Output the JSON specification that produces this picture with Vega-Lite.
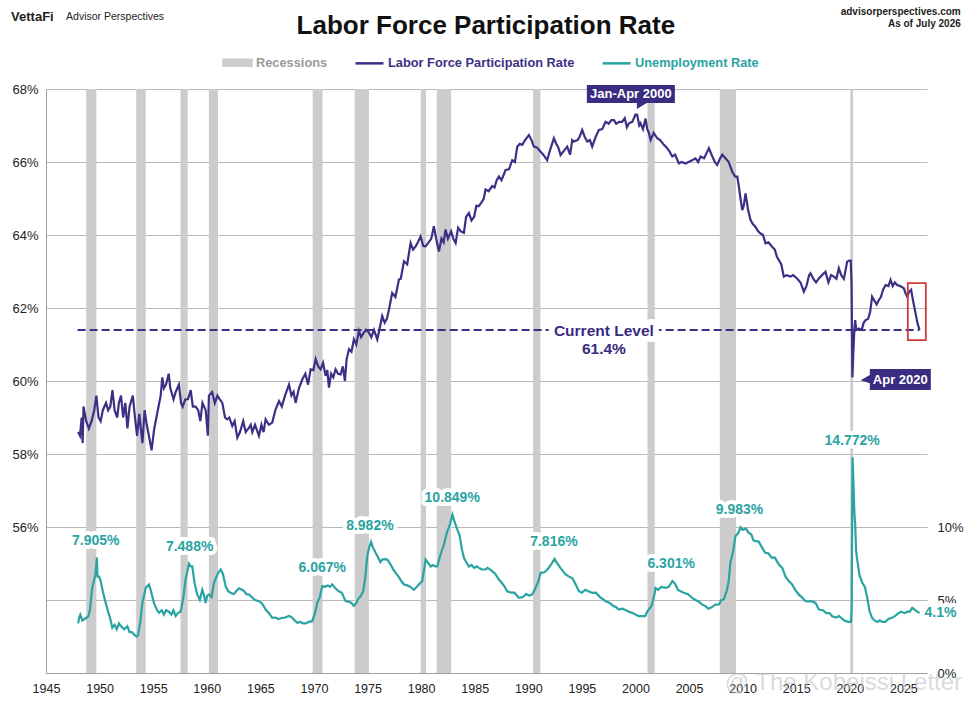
{
  "$schema": "https://vega.github.io/schema/vega-lite/v6.json",
  "width": 881,
  "height": 584,
  "autosize": {"type": "none"},
  "padding": {"left": 46, "top": 89, "right": 46, "bottom": 33},
  "background": "white",
  "config": {
    "view": {"stroke": null},
    "font": "Liberation Sans",
    "axis": {"labelFont": "Liberation Sans", "labelFontSize": 12.5, "labelColor": "#222222", "gridColor": "#b8b8b8", "domainColor": "#a0a0a0", "ticks": false}
  },
  "datasets": {
    "recessions": [
      {"start": 1948.75, "end": 1949.7}, {"start": 1953.42, "end": 1954.3}, {"start": 1957.55, "end": 1958.22},
      {"start": 1960.2, "end": 1961.05}, {"start": 1969.88, "end": 1970.8}, {"start": 1973.8, "end": 1975.13},
      {"start": 1979.96, "end": 1980.46}, {"start": 1981.45, "end": 1982.8}, {"start": 1990.45, "end": 1991.13},
      {"start": 2001.12, "end": 2001.8}, {"start": 2007.87, "end": 2009.38}, {"start": 2020.05, "end": 2020.3}
    ],
    "lfpr": [
      {"t":1948.0,"v":58.6},{"t":1948.17,"v":58.5},{"t":1948.33,"v":59.0},{"t":1948.42,"v":58.3},{"t":1948.5,"v":59.3},{"t":1948.75,"v":58.9},
      {"t":1949.0,"v":58.7},{"t":1949.25,"v":58.9},{"t":1949.5,"v":59.2},{"t":1949.7,"v":59.6},{"t":1949.9,"v":59.0},
      {"t":1950.1,"v":58.9},{"t":1950.3,"v":59.2},{"t":1950.6,"v":59.4},{"t":1950.8,"v":59.2},
      {"t":1951.0,"v":59.3},{"t":1951.2,"v":59.75},{"t":1951.4,"v":59.2},{"t":1951.65,"v":59.0},{"t":1951.8,"v":59.4},
      {"t":1952.0,"v":59.6},{"t":1952.2,"v":59.0},{"t":1952.4,"v":59.4},{"t":1952.6,"v":58.7},{"t":1952.8,"v":59.3},
      {"t":1953.1,"v":59.6},{"t":1953.3,"v":59.0},{"t":1953.5,"v":58.5},{"t":1953.7,"v":59.1},
      {"t":1954.0,"v":58.3},{"t":1954.2,"v":59.2},{"t":1954.4,"v":58.8},{"t":1954.6,"v":58.5},{"t":1954.85,"v":58.1},
      {"t":1955.1,"v":58.7},{"t":1955.3,"v":59.0},{"t":1955.5,"v":59.3},{"t":1955.7,"v":59.6},{"t":1955.85,"v":60.1},
      {"t":1956.0,"v":59.8},{"t":1956.2,"v":59.9},{"t":1956.45,"v":60.2},{"t":1956.6,"v":59.8},{"t":1956.9,"v":59.5},
      {"t":1957.1,"v":59.7},{"t":1957.4,"v":59.9},{"t":1957.6,"v":59.4},{"t":1957.75,"v":59.3},
      {"t":1958.0,"v":59.5},{"t":1958.25,"v":59.5},{"t":1958.5,"v":59.75},{"t":1958.7,"v":59.3},{"t":1958.96,"v":59.3},
      {"t":1959.2,"v":59.2},{"t":1959.4,"v":58.9},{"t":1959.6,"v":59.4},{"t":1959.9,"v":59.2},
      {"t":1960.1,"v":58.5},{"t":1960.2,"v":59.6},{"t":1960.5,"v":59.7},{"t":1960.75,"v":59.4},
      {"t":1961.0,"v":59.6},{"t":1961.2,"v":59.5},{"t":1961.45,"v":59.4},{"t":1961.7,"v":59.0},{"t":1961.9,"v":58.95},
      {"t":1962.1,"v":59.0},{"t":1962.38,"v":58.77},{"t":1962.6,"v":58.9},{"t":1962.85,"v":58.45},
      {"t":1963.1,"v":58.6},{"t":1963.4,"v":58.9},{"t":1963.63,"v":58.6},{"t":1963.9,"v":58.7},
      {"t":1964.1,"v":58.8},{"t":1964.25,"v":58.6},{"t":1964.5,"v":58.8},{"t":1964.87,"v":58.5},
      {"t":1965.1,"v":58.8},{"t":1965.3,"v":58.6},{"t":1965.49,"v":58.95},{"t":1965.8,"v":58.8},
      {"t":1966.11,"v":58.86},{"t":1966.4,"v":59.2},{"t":1966.74,"v":59.45},
      {"t":1967.0,"v":59.3},{"t":1967.3,"v":59.6},{"t":1967.67,"v":59.9},{"t":1967.9,"v":59.6},
      {"t":1968.1,"v":59.7},{"t":1968.29,"v":59.4},{"t":1968.6,"v":59.8},{"t":1968.91,"v":60.04},
      {"t":1969.2,"v":60.2},{"t":1969.45,"v":59.9},{"t":1969.69,"v":60.32},{"t":1969.95,"v":60.3},
      {"t":1970.16,"v":60.6},{"t":1970.4,"v":60.4},{"t":1970.62,"v":60.32},{"t":1970.85,"v":60.5},
      {"t":1971.09,"v":60.14},{"t":1971.25,"v":60.3},{"t":1971.4,"v":59.82},{"t":1971.6,"v":60.2},{"t":1971.8,"v":60.1},
      {"t":1972.02,"v":60.32},{"t":1972.25,"v":60.2},{"t":1972.49,"v":60.18},{"t":1972.7,"v":60.4},{"t":1972.89,"v":60.0},
      {"t":1973.05,"v":60.6},{"t":1973.27,"v":60.87},{"t":1973.5,"v":60.8},{"t":1973.73,"v":61.14},{"t":1973.95,"v":61.0},
      {"t":1974.2,"v":61.37},{"t":1974.4,"v":61.2},{"t":1974.6,"v":61.3},{"t":1974.85,"v":61.4},
      {"t":1975.13,"v":61.33},{"t":1975.35,"v":61.2},{"t":1975.6,"v":61.4},{"t":1975.91,"v":61.14},
      {"t":1976.1,"v":61.4},{"t":1976.37,"v":61.78},{"t":1976.6,"v":61.6},{"t":1976.8,"v":61.7},
      {"t":1977.0,"v":61.96},{"t":1977.3,"v":62.41},{"t":1977.6,"v":62.3},{"t":1977.93,"v":62.78},
      {"t":1978.1,"v":62.8},{"t":1978.4,"v":63.28},{"t":1978.7,"v":63.2},
      {"t":1979.02,"v":63.78},{"t":1979.25,"v":63.6},{"t":1979.49,"v":63.69},{"t":1979.7,"v":63.8},{"t":1979.95,"v":63.96},
      {"t":1980.2,"v":63.7},{"t":1980.42,"v":63.69},{"t":1980.7,"v":63.8},{"t":1980.95,"v":63.9},
      {"t":1981.19,"v":64.24},{"t":1981.4,"v":63.9},{"t":1981.66,"v":63.55},{"t":1981.9,"v":63.9},
      {"t":1982.1,"v":63.8},{"t":1982.28,"v":64.15},{"t":1982.5,"v":63.9},{"t":1982.8,"v":64.1},
      {"t":1983.0,"v":63.9},{"t":1983.22,"v":63.78},{"t":1983.45,"v":64.2},{"t":1983.7,"v":64.1},{"t":1983.99,"v":64.06},
      {"t":1984.2,"v":64.5},{"t":1984.46,"v":64.6},{"t":1984.7,"v":64.4},{"t":1984.95,"v":64.5},
      {"t":1985.15,"v":64.8},{"t":1985.39,"v":64.79},{"t":1985.65,"v":64.9},{"t":1985.85,"v":65.0},
      {"t":1986.01,"v":65.25},{"t":1986.3,"v":65.2},{"t":1986.63,"v":65.34},{"t":1986.85,"v":65.3},
      {"t":1987.05,"v":65.5},{"t":1987.26,"v":65.6},{"t":1987.5,"v":65.5},{"t":1987.88,"v":65.78},
      {"t":1988.2,"v":65.8},{"t":1988.5,"v":66.05},{"t":1988.75,"v":66.0},{"t":1988.97,"v":66.42},
      {"t":1989.2,"v":66.5},{"t":1989.43,"v":66.47},{"t":1989.7,"v":66.6},
      {"t":1990.06,"v":66.74},{"t":1990.3,"v":66.6},{"t":1990.52,"v":66.42},{"t":1990.8,"v":66.4},
      {"t":1991.15,"v":66.28},{"t":1991.4,"v":66.2},{"t":1991.76,"v":66.05},
      {"t":1992.0,"v":66.3},{"t":1992.39,"v":66.65},{"t":1992.6,"v":66.5},{"t":1992.8,"v":66.4},
      {"t":1993.01,"v":66.19},{"t":1993.3,"v":66.3},{"t":1993.63,"v":66.42},{"t":1993.9,"v":66.2},
      {"t":1994.1,"v":66.6},{"t":1994.25,"v":66.56},{"t":1994.6,"v":66.6},{"t":1994.8,"v":66.7},
      {"t":1995.03,"v":66.88},{"t":1995.25,"v":66.7},{"t":1995.5,"v":66.56},{"t":1995.75,"v":66.6},{"t":1995.96,"v":66.42},
      {"t":1996.3,"v":66.7},{"t":1996.59,"v":66.88},{"t":1996.9,"v":66.9},
      {"t":1997.21,"v":67.1},{"t":1997.5,"v":67.05},{"t":1997.75,"v":67.15},{"t":1997.99,"v":67.15},
      {"t":1998.2,"v":67.05},{"t":1998.5,"v":67.1},{"t":1998.76,"v":67.1},
      {"t":1999.0,"v":67.2},{"t":1999.2,"v":66.95},{"t":1999.39,"v":67.06},{"t":1999.7,"v":67.1},
      {"t":2000.0,"v":67.3},{"t":2000.16,"v":67.29},{"t":2000.35,"v":67.0},{"t":2000.47,"v":67.06},{"t":2000.7,"v":66.9},{"t":2000.94,"v":67.19},
      {"t":2001.1,"v":66.9},{"t":2001.25,"v":66.8},{"t":2001.41,"v":66.6},{"t":2001.7,"v":66.8},
      {"t":2002.03,"v":66.65},{"t":2002.3,"v":66.6},{"t":2002.65,"v":66.47},{"t":2002.9,"v":66.4},
      {"t":2003.15,"v":66.3},{"t":2003.43,"v":66.15},{"t":2003.7,"v":66.2},
      {"t":2004.05,"v":65.96},{"t":2004.3,"v":66.0},{"t":2004.68,"v":65.96},{"t":2004.95,"v":66.0},
      {"t":2005.29,"v":66.05},{"t":2005.6,"v":66.1},{"t":2005.85,"v":66.0},
      {"t":2006.07,"v":66.15},{"t":2006.4,"v":66.1},{"t":2006.85,"v":66.38},
      {"t":2007.1,"v":66.2},{"t":2007.4,"v":66.0},{"t":2007.62,"v":65.92},{"t":2007.9,"v":66.1},
      {"t":2008.1,"v":66.2},{"t":2008.4,"v":66.1},{"t":2008.7,"v":66.0},
      {"t":2009.02,"v":65.74},{"t":2009.3,"v":65.6},{"t":2009.5,"v":65.6},{"t":2009.65,"v":65.32},{"t":2009.8,"v":65.0},{"t":2009.96,"v":64.68},
      {"t":2010.1,"v":64.8},{"t":2010.27,"v":65.14},{"t":2010.5,"v":64.7},{"t":2010.74,"v":64.41},{"t":2010.95,"v":64.3},
      {"t":2011.2,"v":64.22},{"t":2011.45,"v":64.1},{"t":2011.67,"v":64.04},{"t":2011.9,"v":64.0},
      {"t":2012.13,"v":63.77},{"t":2012.4,"v":63.8},{"t":2012.75,"v":63.68},
      {"t":2013.0,"v":63.6},{"t":2013.2,"v":63.4},{"t":2013.38,"v":63.31},{"t":2013.6,"v":63.2},{"t":2013.84,"v":62.86},
      {"t":2014.1,"v":62.9},{"t":2014.47,"v":62.86},{"t":2014.7,"v":62.9},
      {"t":2015.08,"v":62.81},{"t":2015.4,"v":62.7},{"t":2015.71,"v":62.45},{"t":2015.95,"v":62.6},
      {"t":2016.2,"v":62.9},{"t":2016.33,"v":62.95},{"t":2016.6,"v":62.8},{"t":2016.85,"v":62.7},
      {"t":2017.11,"v":62.81},{"t":2017.4,"v":62.9},{"t":2017.73,"v":62.99},
      {"t":2018.0,"v":62.7},{"t":2018.25,"v":62.9},{"t":2018.51,"v":62.86},{"t":2018.75,"v":62.8},{"t":2018.97,"v":63.09},
      {"t":2019.2,"v":62.9},{"t":2019.45,"v":62.8},{"t":2019.75,"v":63.27},{"t":2019.95,"v":63.3},
      {"t":2020.08,"v":63.3},{"t":2020.16,"v":62.7},{"t":2020.24,"v":60.1},{"t":2020.33,"v":60.8},{"t":2020.42,"v":61.4},
      {"t":2020.5,"v":61.67},{"t":2020.6,"v":61.4},{"t":2020.84,"v":61.44},
      {"t":2021.1,"v":61.4},{"t":2021.3,"v":61.6},{"t":2021.47,"v":61.67},{"t":2021.7,"v":61.7},{"t":2021.9,"v":61.9},
      {"t":2022.08,"v":62.31},{"t":2022.3,"v":62.2},{"t":2022.5,"v":62.1},{"t":2022.71,"v":62.22},{"t":2022.9,"v":62.3},
      {"t":2023.1,"v":62.5},{"t":2023.33,"v":62.63},{"t":2023.6,"v":62.6},{"t":2023.8,"v":62.77},
      {"t":2024.0,"v":62.6},{"t":2024.2,"v":62.7},{"t":2024.41,"v":62.63},{"t":2024.7,"v":62.6},
      {"t":2025.04,"v":62.54},{"t":2025.2,"v":62.4},{"t":2025.35,"v":62.31},{"t":2025.55,"v":62.45},{"t":2025.72,"v":62.5},{"t":2025.9,"v":62.2},
      {"t":2026.13,"v":61.86},{"t":2026.3,"v":61.6},{"t":2026.5,"v":61.4}
    ],
    "unemp": [
      {"t":1948.0,"v":3.4},{"t":1948.1,"v":3.8},{"t":1948.2,"v":4.0},{"t":1948.4,"v":3.6},{"t":1948.6,"v":3.7},{"t":1948.8,"v":3.8},{"t":1948.95,"v":3.9},
      {"t":1949.1,"v":4.3},{"t":1949.3,"v":5.8},{"t":1949.5,"v":6.4},{"t":1949.6,"v":6.7},{"t":1949.75,"v":7.905},{"t":1949.8,"v":6.6},{"t":1949.95,"v":6.6},
      {"t":1950.1,"v":6.3},{"t":1950.3,"v":5.6},{"t":1950.57,"v":4.8},{"t":1950.8,"v":4.2},
      {"t":1951.0,"v":3.7},{"t":1951.19,"v":3.1},{"t":1951.4,"v":3.3},{"t":1951.6,"v":3.0},{"t":1951.81,"v":3.4},
      {"t":1952.0,"v":3.2},{"t":1952.3,"v":3.0},{"t":1952.59,"v":3.2},{"t":1952.8,"v":2.8},
      {"t":1953.0,"v":2.8},{"t":1953.21,"v":2.64},{"t":1953.45,"v":2.5},{"t":1953.6,"v":2.6},{"t":1953.8,"v":3.5},{"t":1953.99,"v":4.8},
      {"t":1954.15,"v":5.3},{"t":1954.3,"v":5.83},{"t":1954.61,"v":6.06},{"t":1954.8,"v":5.6},
      {"t":1955.07,"v":4.8},{"t":1955.3,"v":4.4},{"t":1955.54,"v":4.12},{"t":1955.8,"v":4.3},
      {"t":1956.0,"v":4.0},{"t":1956.2,"v":4.3},{"t":1956.47,"v":4.2},{"t":1956.7,"v":4.0},{"t":1956.9,"v":4.3},
      {"t":1957.1,"v":3.9},{"t":1957.3,"v":4.1},{"t":1957.56,"v":4.2},{"t":1957.8,"v":5.1},
      {"t":1958.02,"v":6.4},{"t":1958.2,"v":7.0},{"t":1958.33,"v":7.488},{"t":1958.5,"v":7.3},{"t":1958.65,"v":7.3},{"t":1958.85,"v":6.2},
      {"t":1959.11,"v":5.38},{"t":1959.35,"v":5.0},{"t":1959.58,"v":5.7},{"t":1959.75,"v":5.3},{"t":1959.89,"v":4.8},
      {"t":1960.05,"v":5.3},{"t":1960.21,"v":5.38},{"t":1960.45,"v":5.2},{"t":1960.67,"v":6.18},{"t":1960.9,"v":6.6},
      {"t":1961.1,"v":6.9},{"t":1961.3,"v":7.09},{"t":1961.5,"v":6.8},{"t":1961.76,"v":5.95},
      {"t":1962.0,"v":5.6},{"t":1962.23,"v":5.5},{"t":1962.5,"v":5.4},{"t":1962.75,"v":5.6},
      {"t":1963.0,"v":5.8},{"t":1963.3,"v":5.7},{"t":1963.5,"v":5.6},{"t":1963.7,"v":5.4},{"t":1963.94,"v":5.38},
      {"t":1964.2,"v":5.2},{"t":1964.5,"v":5.0},{"t":1964.87,"v":4.92},
      {"t":1965.1,"v":4.8},{"t":1965.3,"v":4.6},{"t":1965.49,"v":4.35},{"t":1965.8,"v":4.1},
      {"t":1966.11,"v":3.78},{"t":1966.4,"v":3.8},{"t":1966.7,"v":3.7},
      {"t":1967.05,"v":3.78},{"t":1967.3,"v":3.8},{"t":1967.67,"v":3.9},{"t":1967.95,"v":3.8},
      {"t":1968.2,"v":3.6},{"t":1968.45,"v":3.44},{"t":1968.7,"v":3.5},
      {"t":1969.0,"v":3.4},{"t":1969.23,"v":3.4},{"t":1969.5,"v":3.5},{"t":1969.84,"v":3.55},
      {"t":1970.1,"v":4.1},{"t":1970.31,"v":4.8},{"t":1970.55,"v":5.2},{"t":1970.78,"v":5.95},
      {"t":1971.0,"v":5.9},{"t":1971.3,"v":6.0},{"t":1971.5,"v":5.9},{"t":1971.71,"v":6.067},
      {"t":1972.0,"v":5.8},{"t":1972.33,"v":5.6},{"t":1972.6,"v":5.5},{"t":1972.96,"v":4.92},
      {"t":1973.2,"v":4.9},{"t":1973.5,"v":4.8},{"t":1973.73,"v":4.6},{"t":1973.95,"v":4.8},
      {"t":1974.15,"v":5.1},{"t":1974.35,"v":5.25},{"t":1974.6,"v":5.6},{"t":1974.8,"v":6.6},{"t":1974.97,"v":8.0},
      {"t":1975.15,"v":8.6},{"t":1975.33,"v":8.982},{"t":1975.5,"v":8.6},{"t":1975.75,"v":8.23},
      {"t":1976.0,"v":7.9},{"t":1976.2,"v":7.6},{"t":1976.37,"v":7.77},{"t":1976.6,"v":7.8},{"t":1976.84,"v":7.77},
      {"t":1977.1,"v":7.5},{"t":1977.4,"v":7.1},{"t":1977.62,"v":6.86},{"t":1977.9,"v":6.6},
      {"t":1978.15,"v":6.3},{"t":1978.4,"v":6.06},{"t":1978.7,"v":6.0},
      {"t":1979.0,"v":5.9},{"t":1979.33,"v":5.7},{"t":1979.6,"v":5.9},{"t":1979.8,"v":6.06},
      {"t":1980.1,"v":6.3},{"t":1980.3,"v":7.2},{"t":1980.42,"v":7.77},{"t":1980.6,"v":7.6},{"t":1980.89,"v":7.3},
      {"t":1981.1,"v":7.4},{"t":1981.3,"v":7.3},{"t":1981.51,"v":7.3},{"t":1981.8,"v":8.1},
      {"t":1982.13,"v":8.8},{"t":1982.4,"v":9.6},{"t":1982.7,"v":10.2},{"t":1982.92,"v":10.849},
      {"t":1983.1,"v":10.4},{"t":1983.37,"v":9.83},{"t":1983.6,"v":9.4},{"t":1983.8,"v":8.5},{"t":1983.99,"v":7.89},
      {"t":1984.2,"v":7.6},{"t":1984.46,"v":7.3},{"t":1984.7,"v":7.4},{"t":1984.95,"v":7.2},
      {"t":1985.2,"v":7.3},{"t":1985.39,"v":7.2},{"t":1985.65,"v":7.1},
      {"t":1986.01,"v":7.09},{"t":1986.2,"v":7.2},{"t":1986.4,"v":7.1},{"t":1986.63,"v":6.98},{"t":1986.9,"v":6.8},
      {"t":1987.26,"v":6.4},{"t":1987.5,"v":6.2},{"t":1987.8,"v":5.9},
      {"t":1988.03,"v":5.6},{"t":1988.4,"v":5.5},{"t":1988.7,"v":5.5},
      {"t":1989.12,"v":5.15},{"t":1989.5,"v":5.2},{"t":1989.8,"v":5.4},
      {"t":1990.1,"v":5.3},{"t":1990.36,"v":5.38},{"t":1990.6,"v":5.7},{"t":1990.9,"v":6.2},
      {"t":1991.15,"v":6.86},{"t":1991.5,"v":6.9},{"t":1991.8,"v":7.1},
      {"t":1992.1,"v":7.4},{"t":1992.45,"v":7.816},{"t":1992.7,"v":7.5},
      {"t":1993.0,"v":7.2},{"t":1993.48,"v":6.75},{"t":1993.8,"v":6.6},
      {"t":1994.1,"v":6.5},{"t":1994.4,"v":6.1},{"t":1994.72,"v":5.6},
      {"t":1995.0,"v":5.5},{"t":1995.3,"v":5.7},{"t":1995.6,"v":5.6},{"t":1995.96,"v":5.49},
      {"t":1996.3,"v":5.5},{"t":1996.7,"v":5.2},
      {"t":1997.21,"v":4.92},{"t":1997.6,"v":4.8},{"t":1997.9,"v":4.6},
      {"t":1998.2,"v":4.5},{"t":1998.45,"v":4.35},{"t":1998.8,"v":4.4},
      {"t":1999.1,"v":4.3},{"t":1999.4,"v":4.2},{"t":1999.69,"v":4.12},
      {"t":2000.0,"v":4.0},{"t":2000.3,"v":3.9},{"t":2000.62,"v":3.89},{"t":2000.9,"v":3.9},
      {"t":2001.1,"v":4.2},{"t":2001.25,"v":4.35},{"t":2001.5,"v":4.6},{"t":2001.75,"v":5.3},{"t":2001.87,"v":5.83},
      {"t":2002.1,"v":5.7},{"t":2002.4,"v":5.9},{"t":2002.81,"v":5.83},
      {"t":2003.1,"v":5.9},{"t":2003.45,"v":6.301},{"t":2003.7,"v":6.1},{"t":2003.95,"v":5.7},
      {"t":2004.21,"v":5.6},{"t":2004.5,"v":5.5},{"t":2004.9,"v":5.4},
      {"t":2005.29,"v":5.15},{"t":2005.6,"v":5.0},{"t":2005.9,"v":4.9},
      {"t":2006.2,"v":4.7},{"t":2006.53,"v":4.58},{"t":2006.8,"v":4.4},
      {"t":2007.1,"v":4.5},{"t":2007.46,"v":4.69},{"t":2007.8,"v":4.7},
      {"t":2008.0,"v":5.0},{"t":2008.23,"v":5.03},{"t":2008.5,"v":5.6},{"t":2008.7,"v":6.3},{"t":2008.85,"v":7.55},
      {"t":2009.1,"v":8.3},{"t":2009.32,"v":9.37},{"t":2009.6,"v":9.6},{"t":2009.8,"v":9.983},
      {"t":2010.0,"v":9.8},{"t":2010.3,"v":9.9},{"t":2010.56,"v":9.6},{"t":2010.8,"v":9.5},
      {"t":2011.0,"v":9.1},{"t":2011.18,"v":9.03},{"t":2011.5,"v":9.0},{"t":2011.8,"v":8.6},
      {"t":2012.11,"v":8.23},{"t":2012.4,"v":8.2},{"t":2012.7,"v":7.9},
      {"t":2013.0,"v":7.9},{"t":2013.38,"v":7.43},{"t":2013.7,"v":7.2},
      {"t":2014.0,"v":6.6},{"t":2014.3,"v":6.3},{"t":2014.62,"v":6.06},{"t":2014.9,"v":5.7},
      {"t":2015.2,"v":5.4},{"t":2015.5,"v":5.2},{"t":2015.87,"v":4.92},
      {"t":2016.2,"v":4.9},{"t":2016.5,"v":4.9},{"t":2016.8,"v":4.8},
      {"t":2017.11,"v":4.35},{"t":2017.5,"v":4.3},{"t":2017.8,"v":4.1},
      {"t":2018.1,"v":4.1},{"t":2018.35,"v":3.89},{"t":2018.7,"v":3.8},
      {"t":2019.0,"v":3.9},{"t":2019.3,"v":3.7},{"t":2019.6,"v":3.55},{"t":2019.9,"v":3.5},
      {"t":2020.1,"v":3.5},{"t":2020.17,"v":4.4},{"t":2020.25,"v":14.772},{"t":2020.33,"v":13.2},{"t":2020.42,"v":11.0},
      {"t":2020.5,"v":10.2},{"t":2020.58,"v":8.4},{"t":2020.68,"v":7.8},{"t":2020.9,"v":6.7},
      {"t":2021.15,"v":6.2},{"t":2021.4,"v":5.9},{"t":2021.61,"v":5.2},{"t":2021.85,"v":4.2},
      {"t":2022.08,"v":3.78},{"t":2022.3,"v":3.6},{"t":2022.6,"v":3.5},{"t":2022.8,"v":3.6},
      {"t":2023.01,"v":3.5},{"t":2023.3,"v":3.5},{"t":2023.6,"v":3.7},{"t":2023.94,"v":3.78},
      {"t":2024.2,"v":3.9},{"t":2024.57,"v":4.12},{"t":2024.8,"v":4.2},
      {"t":2025.1,"v":4.1},{"t":2025.35,"v":4.2},{"t":2025.6,"v":4.2},{"t":2025.82,"v":4.46},
      {"t":2026.1,"v":4.3},{"t":2026.3,"v":4.2},{"t":2026.5,"v":4.1}
    ],
    "peaks": [
      {"t": 1949.64, "v": 9.03, "label": "7.905%"},
      {"t": 1958.4, "v": 8.64, "label": "7.488%"},
      {"t": 1970.78, "v": 7.2, "label": "6.067%"},
      {"t": 1975.22, "v": 10.1, "label": "8.982%"},
      {"t": 1982.9, "v": 12.0, "label": "10.849%"},
      {"t": 1992.39, "v": 8.96, "label": "7.816%"},
      {"t": 2003.33, "v": 7.48, "label": "6.301%"},
      {"t": 2009.71, "v": 11.15, "label": "9.983%"},
      {"t": 2020.22, "v": 15.88, "label": "14.772%"},
      {"t": 2028.46, "v": 4.08, "label": "4.1%"}
    ]
  },
  "encoding": {
    "x": {
      "field": "t",
      "type": "quantitative",
      "scale": {"domain": [1945, 2027.2], "nice": false, "zero": false},
      "axis": {"title": null, "values": [1945, 1950, 1955, 1960, 1965, 1970, 1975, 1980, 1985, 1990, 1995, 2000, 2005, 2010, 2015, 2020, 2025], "format": "d", "grid": false, "labelFlush": false, "labelOverlap": false, "labelPadding": 9}
    }
  },
  "layer": [
    {
      "data": {"name": "recessions"},
      "mark": {"type": "rect"},
      "encoding": {
        "x": {"field": "start", "type": "quantitative"},
        "x2": {"field": "end"},
        "color": {
          "datum": "Recessions",
          "type": "nominal",
          "scale": {"domain": ["Recessions", "Labor Force Participation Rate", "Unemployment Rate"], "range": ["#cccccc", "#3c2f86", "#2aa3a3"]},
          "legend": {
            "orient": "none",
            "legendX": 176,
            "legendY": -42,
            "direction": "horizontal",
            "title": null,
            "padding": 0,
            "symbolType": "stroke",
            "symbolSize": 784,
            "symbolStrokeWidth": 2.5,
            "labelFont": "Liberation Sans",
            "labelFontSize": 12.8,
            "labelFontWeight": "bold",
            "labelLimit": 300,
            "labelOffset": 3,
            "columnPadding": 22,
            "encode": {
              "symbols": {"update": {
                "shape": {"signal": "datum.value === 'Recessions' ? 'M-1,-0.22H1V0.22H-1Z' : 'stroke'"},
                "fill": {"signal": "datum.value === 'Recessions' ? '#cccccc' : 'transparent'"},
                "stroke": {"signal": "datum.value === 'Recessions' ? 'transparent' : datum.value === 'Unemployment Rate' ? '#2aa3a3' : '#3c2f86'"},
                "strokeWidth": {"value": 2.5},
                "opacity": {"value": 1}
              }},
              "labels": {"update": {
                "fill": {"signal": "datum.value === 'Recessions' ? '#9a9a9a' : datum.value === 'Unemployment Rate' ? '#2aa3a3' : '#3c2f86'"}
              }}
            }
          }
        }
      }
    },
    {
      "encoding": {
        "y": {
          "field": "v",
          "type": "quantitative",
          "scale": {"domain": [52, 68], "nice": false, "zero": false},
          "axis": {"orient": "left", "title": null, "values": [56, 58, 60, 62, 64, 66, 68], "labelExpr": "datum.value + '%'", "domain": true, "labelPadding": 8, "labelFontSize": 13}
        }
      },
      "layer": [
        {
          "data": {"values": [{"t": 1947.95, "t2": 2026.5, "v": 61.4}]},
          "mark": {"type": "rule", "strokeDash": [8, 4], "strokeWidth": 2, "color": "#3c2f86"},
          "encoding": {"x2": {"field": "t2"}}
        },
        {
          "data": {"name": "lfpr"},
          "mark": {"type": "line", "strokeWidth": 2.2},
          "encoding": {"color": {"datum": "Labor Force Participation Rate", "type": "nominal"}}
        },
        {
          "data": {"values": [{"t": 1997.05, "v": 61.37, "text": "Current Level\n61.4%"}]},
          "mark": {"type": "text", "align": "center", "baseline": "middle", "lineBreak": "\n", "lineHeight": 18, "font": "Liberation Sans", "fontSize": 15.5, "fontWeight": "bold", "fill": "white", "stroke": "white", "strokeWidth": 12, "strokeJoin": "round"},
          "encoding": {"text": {"field": "text"}}
        },
        {
          "data": {"values": [{"t": 1997.05, "v": 61.37, "text": "Current Level\n61.4%"}]},
          "mark": {"type": "text", "align": "center", "baseline": "middle", "lineBreak": "\n", "lineHeight": 18, "font": "Liberation Sans", "fontSize": 15.5, "fontWeight": "bold", "color": "#3a2c80"},
          "encoding": {"text": {"field": "text"}}
        },
        {
          "data": {"values": [{"t": 2025.41, "t2": 2027.09, "v": 61.12, "v2": 62.68}]},
          "mark": {"type": "rect", "fill": null, "fillOpacity": 0, "stroke": "#d23a3a", "strokeWidth": 1.8},
          "encoding": {"x2": {"field": "t2"}, "y2": {"field": "v2"}}
        },
        {
          "data": {"values": [{"t": 1999.57, "v": 67.86, "text": "Jan-Apr 2000"}]},
          "mark": {"type": "point", "shape": "M-1,-0.2045H1V0.2045H0.36L0.136,0.34V0.2045H-1Z", "size": 7744, "filled": true, "color": "#3a2c80", "opacity": 1, "strokeWidth": 0}
        },
        {
          "data": {"values": [{"t": 1999.57, "v": 67.86, "text": "Jan-Apr 2000"}]},
          "mark": {"type": "text", "align": "center", "baseline": "middle", "font": "Liberation Sans", "fontSize": 13, "fontWeight": "bold", "color": "white"},
          "encoding": {"text": {"field": "text"}}
        },
        {
          "data": {"values": [{"t": 2024.71, "v": 60.04, "text": "Apr 2020"}]},
          "mark": {"type": "point", "shape": "M-1,-0.344H1V0.344H-1V0.12L-1.3,0.02L-1,-0.15Z", "size": 3721, "filled": true, "color": "#3a2c80", "opacity": 1, "strokeWidth": 0}
        },
        {
          "data": {"values": [{"t": 2024.71, "v": 60.04, "text": "Apr 2020"}]},
          "mark": {"type": "text", "align": "center", "baseline": "middle", "font": "Liberation Sans", "fontSize": 13, "fontWeight": "bold", "color": "white"},
          "encoding": {"text": {"field": "text"}}
        },
        {
          "data": {"values": [{"t": 1986.04, "v": 69.73, "text": "Labor Force Participation Rate"}]},
          "mark": {"type": "text", "align": "center", "baseline": "middle", "font": "Liberation Sans", "fontSize": 26, "fontWeight": "bold", "color": "#111111"},
          "encoding": {"text": {"field": "text"}}
        },
        {
          "data": {"values": [{"t": 1941.74, "v": 69.97, "text": "VettaFi"}]},
          "mark": {"type": "text", "align": "left", "baseline": "middle", "font": "Liberation Sans", "fontSize": 13, "fontWeight": "bold", "color": "#222222"},
          "encoding": {"text": {"field": "text"}}
        },
        {
          "data": {"values": [{"t": 1946.87, "v": 69.97, "text": "Advisor Perspectives"}]},
          "mark": {"type": "text", "align": "left", "baseline": "middle", "font": "Liberation Sans", "fontSize": 10.5, "color": "#222222"},
          "encoding": {"text": {"field": "text"}}
        },
        {
          "data": {"values": [{"t": 2030.35, "v": 70.11, "text": "advisorperspectives.com"}, {"t": 2030.35, "v": 69.77, "text": "As of July 2026"}]},
          "mark": {"type": "text", "align": "right", "baseline": "middle", "font": "Liberation Sans", "fontSize": 10, "fontWeight": "bold", "color": "#222222"},
          "encoding": {"text": {"field": "text"}}
        },
        {
          "data": {"values": [{"t": 2019.4, "v": 51.73, "text": "@ The Kobeissi Letter"}]},
          "mark": {"type": "text", "align": "center", "baseline": "middle", "font": "Liberation Sans", "fontSize": 24, "color": "#bdbdbd", "opacity": 0.55},
          "encoding": {"text": {"field": "text"}}
        }
      ]
    },
    {
      "encoding": {
        "y": {
          "field": "v",
          "type": "quantitative",
          "scale": {"domain": [0, 40], "nice": false, "zero": false},
          "axis": {"orient": "right", "title": null, "values": [0, 5, 10], "labelExpr": "datum.value + '%'", "grid": true, "domain": false, "labelPadding": 10, "labelFontSize": 13}
        }
      },
      "layer": [
        {
          "data": {"name": "unemp"},
          "mark": {"type": "line", "strokeWidth": 2.2},
          "encoding": {"color": {"datum": "Unemployment Rate", "type": "nominal"}}
        },
        {
          "data": {"name": "peaks"},
          "mark": {"type": "text", "align": "center", "baseline": "middle", "font": "Liberation Sans", "fontSize": 14, "fontWeight": "bold", "fill": "white", "stroke": "white", "strokeWidth": 8, "strokeJoin": "round"},
          "encoding": {"text": {"field": "label"}}
        },
        {
          "data": {"name": "peaks"},
          "mark": {"type": "text", "align": "center", "baseline": "middle", "font": "Liberation Sans", "fontSize": 14, "fontWeight": "bold", "color": "#2aa3a3"},
          "encoding": {"text": {"field": "label"}}
        }
      ]
    }
  ],
  "resolve": {"scale": {"y": "independent"}}
}
